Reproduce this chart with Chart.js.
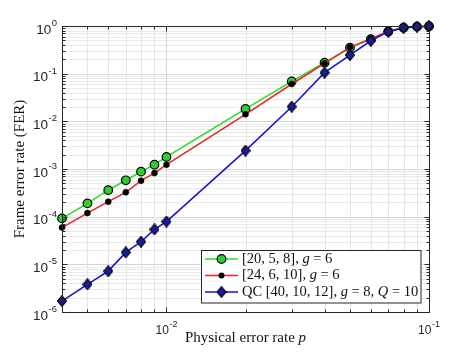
<!DOCTYPE html>
<html>
<head>
<meta charset="utf-8">
<script src="https://cdn.jsdelivr.net/npm/chart.js@4.4.0/dist/chart.umd.min.js"></script>
<style>
html,body{margin:0;padding:0;background:#fff;}
#wrap{width:474px;height:355px;}
</style>
</head>
<body>
<div id="wrap"><canvas id="c" width="474" height="355"></canvas></div>
<script>
// ---- data ----
const pValues = [0.004,0.005,0.006,0.007,0.008,0.009,0.01,0.02,0.03,0.04,0.05,0.06,0.07,0.08,0.09,0.1];
const ferA = [9.2e-5,1.9e-4,3.6e-4,5.8e-4,8.8e-4,1.23e-3,1.79e-3,0.0182,0.069,0.17,0.35,0.53,0.77,0.92,0.97,0.99];
const ferB = [5.9e-5,1.19e-4,2.06e-4,3.24e-4,5.7e-4,8.2e-4,1.23e-3,0.014,0.0607,0.165,0.357,0.54,0.77,0.93,0.97,0.99];
const ferC = [1.7e-6,3.8e-6,7.2e-6,1.78e-5,2.98e-5,5.4e-5,7.9e-5,2.43e-3,0.0203,0.105,0.246,0.49,0.76,0.92,0.97,0.99];
const seriesNames = ['[20, 5, 8], g = 6', '[24, 6, 10], g = 6', 'QC [40, 10, 12], g = 8, Q = 10'];
const yTickExps = [0,-1,-2,-3,-4,-5,-6];
const xTickExps = [-2,-1];
const xTitle = 'Physical error rate p';
const yTitle = 'Frame error rate (FER)';

// ---- styles ----
const GREEN_LINE = '#26dc26', GREEN_FILL = '#30cc30';
const RED_LINE = '#ee2222';
const BLUE_LINE = '#1010d6', BLUE_FILL = '#1c1c9c';
const AX = '#262626';

function makeDiamond(w,h,fill){
  const c=document.createElement('canvas'); c.width=w; c.height=h;
  const g=c.getContext('2d');
  g.beginPath(); g.moveTo(w/2,0.6); g.lineTo(w-0.6,h/2); g.lineTo(w/2,h-0.6); g.lineTo(0.6,h/2); g.closePath();
  g.fillStyle=fill; g.fill(); g.lineWidth=1.1; g.strokeStyle='#000'; g.stroke();
  return c;
}
const diamond = makeDiamond(10,12,BLUE_FILL);

function pts(ys){ return pValues.map((x,i)=>({x:x,y:ys[i]})); }

function richParts(text){
  return text.split(/(\b[A-Za-z]\b)/).filter(s=>s.length).map(s=>({t:s,it:/^[A-Za-z]$/.test(s)}));
}
function drawRich(ctx,text,x,y,size,align){
  const parts=richParts(text);
  const fnt=(it)=>(it?'italic ':'')+size+'px "Liberation Serif", serif';
  let total=0;
  parts.forEach(p=>{ctx.font=fnt(p.it); p.w=ctx.measureText(p.t).width; total+=p.w;});
  let cx = align==='center'? x-total/2 : x;
  ctx.textBaseline='middle'; ctx.textAlign='left';
  parts.forEach(p=>{ctx.font=fnt(p.it); ctx.fillText(p.t,cx,y); cx+=p.w;});
}

const axesPlugin = {
  id:'matlabAxes',
  beforeDatasetsDraw(chart){
    const ctx=chart.ctx, a=chart.chartArea, xs=chart.scales.x, ys=chart.scales.y;
    ctx.save(); ctx.lineWidth=1;
    for(let d=-6; d<0; d++){
      for(let m=1;m<=9;m++){
        const v=m*Math.pow(10,d); if(v<=1e-6*1.0001) continue;
        const py=Math.round(ys.getPixelForValue(v))+0.5;
        ctx.strokeStyle = m===1? '#d6d6d6' : '#eaeaea';
        ctx.beginPath(); ctx.moveTo(a.left,py); ctx.lineTo(a.right,py); ctx.stroke();
      }
    }
    for(let d=-3; d<-1; d++){
      for(let m=1;m<=9;m++){
        const v=m*Math.pow(10,d); if(v<0.004*0.9999||v>=0.1*0.9999) continue;
        if(Math.abs(v-0.004)<1e-9) continue;
        const px=Math.round(xs.getPixelForValue(v))+0.5;
        ctx.strokeStyle = m===1? '#d6d6d6' : '#e6e6e6';
        ctx.beginPath(); ctx.moveTo(px,a.top); ctx.lineTo(px,a.bottom); ctx.stroke();
      }
    }
    ctx.restore();
  },
  afterDatasetsDraw(chart){
    const ctx=chart.ctx, a=chart.chartArea, xs=chart.scales.x, ys=chart.scales.y;
    ctx.save();
    ctx.strokeStyle=AX; ctx.lineWidth=1;
    const L=Math.round(a.left)+0.5, R=Math.round(a.right)+0.5, T=Math.round(a.top)+0.5, B=Math.round(a.bottom)+0.5;
    for(let d=-6; d<=0; d++){
      for(let m=1;m<=9;m++){
        const v=m*Math.pow(10,d); if(v>1.0001) continue;
        const py=Math.round(ys.getPixelForValue(v))+0.5;
        const len= m===1?5:3;
        ctx.beginPath(); ctx.moveTo(L,py); ctx.lineTo(L+len,py); ctx.moveTo(R,py); ctx.lineTo(R-len,py); ctx.stroke();
      }
    }
    for(let d=-3; d<=-1; d++){
      for(let m=1;m<=9;m++){
        const v=m*Math.pow(10,d); if(v<0.004*0.9999||v>0.1001) continue;
        const px=Math.round(xs.getPixelForValue(v))+0.5;
        const len= m===1?5:3;
        ctx.beginPath(); ctx.moveTo(px,B); ctx.lineTo(px,B-len); ctx.moveTo(px,T); ctx.lineTo(px,T+len); ctx.stroke();
      }
    }
    ctx.strokeRect(L,T,R-L,B-T);
    // y tick labels
    ctx.fillStyle=AX; ctx.textBaseline='middle'; ctx.textAlign='left';
    yTickExps.forEach(e=>{
      const py=ys.getPixelForValue(Math.pow(10,e));
      ctx.font='9.5px "Liberation Sans", Arial, sans-serif';
      const sup=String(e); const ws=ctx.measureText(sup).width;
      ctx.font='13.5px "Liberation Sans", Arial, sans-serif';
      const wb=ctx.measureText('10').width;
      const supX=a.left-5-ws;
      ctx.fillText('10',supX-wb-0.5,py+4);
      ctx.font='9.5px "Liberation Sans", Arial, sans-serif';
      ctx.fillText(sup,supX,py-2.5);
    });
    // x tick labels
    xTickExps.forEach(e=>{
      const px=xs.getPixelForValue(Math.pow(10,e));
      ctx.font='9px "Liberation Sans", Arial, sans-serif';
      const sup=String(e); const ws=ctx.measureText(sup).width;
      ctx.font='12px "Liberation Sans", Arial, sans-serif';
      const wb=ctx.measureText('10').width;
      const x0=px-(wb+ws+0.5)/2;
      ctx.fillText('10',x0,331);
      ctx.font='9px "Liberation Sans", Arial, sans-serif';
      ctx.fillText(sup,x0+wb+0.5,325);
    });
    // titles
    ctx.fillStyle='#111';
    drawRich(ctx,xTitle,(a.left+a.right)/2,338,15,'center');
    ctx.save(); ctx.translate(20,(a.top+a.bottom)/2); ctx.rotate(-Math.PI/2);
    drawRich(ctx,yTitle,0,0,15,'center'); ctx.restore();
    // legend
    const bx=201.5, by=250.5, bw=219.5, bh=52.5;
    ctx.fillStyle='#fff'; ctx.fillRect(bx,by,bw,bh);
    ctx.strokeStyle=AX; ctx.lineWidth=1; ctx.strokeRect(bx,by,bw,bh);
    const rows=[259,275.5,292];
    const lineCols=[GREEN_LINE,RED_LINE,BLUE_LINE];
    rows.forEach((ry,i)=>{
      ctx.strokeStyle=lineCols[i]; ctx.lineWidth=1.5;
      ctx.beginPath(); ctx.moveTo(205,ry); ctx.lineTo(238,ry); ctx.stroke();
      const mx=221.5;
      if(i===0){ ctx.beginPath(); ctx.arc(mx,ry,4.3,0,Math.PI*2); ctx.fillStyle=GREEN_FILL; ctx.fill(); ctx.lineWidth=1.2; ctx.strokeStyle='#000'; ctx.stroke(); }
      else if(i===1){ ctx.beginPath(); ctx.arc(mx,ry,3,0,Math.PI*2); ctx.fillStyle='#000'; ctx.fill(); }
      else { ctx.drawImage(diamond,mx-diamond.width/2,ry-diamond.height/2); }
      ctx.fillStyle='#111';
      drawRich(ctx,seriesNames[i],242,ry,14.5,'left');
    });
    ctx.restore();
  }
};

new Chart(document.getElementById('c'),{
  type:'line',
  data:{datasets:[
    {label:seriesNames[0],data:pts(ferA),borderColor:GREEN_LINE,borderWidth:1.5,pointRadius:4.3,pointBackgroundColor:GREEN_FILL,pointBorderColor:'#000',pointBorderWidth:1.2,order:3,clip:false,tension:0},
    {label:seriesNames[1],data:pts(ferB),borderColor:RED_LINE,borderWidth:1.5,pointRadius:3,pointBackgroundColor:'#000',pointBorderColor:'#000',pointBorderWidth:0.5,order:2,clip:false,tension:0},
    {label:seriesNames[2],data:pts(ferC),borderColor:BLUE_LINE,borderWidth:1.5,pointStyle:diamond,pointRadius:5,order:1,clip:false,tension:0}
  ]},
  options:{
    responsive:false, animation:false, devicePixelRatio:1,
    layout:{padding:{left:0,top:26,right:45,bottom:0}},
    plugins:{legend:{display:false},tooltip:{enabled:false}},
    scales:{
      x:{type:'logarithmic',min:0.004,max:0.1,grid:{display:false},border:{display:false},ticks:{display:false},title:{display:false},
         afterFit(s){s.height=43;}},
      y:{type:'logarithmic',min:1e-6,max:1,grid:{display:false},border:{display:false},ticks:{display:false},title:{display:false},
         afterFit(s){s.width=62;}}
    }
  },
  plugins:[axesPlugin]
});
</script>
</body>
</html>
